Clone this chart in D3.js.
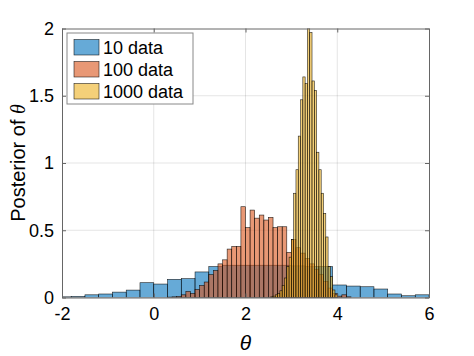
<!DOCTYPE html>
<html>
<head>
<meta charset="utf-8">
<script src="https://cdn.jsdelivr.net/npm/d3@7"></script>
<style>
  html, body { margin: 0; padding: 0; background: #fff; }
  svg { display: block; }
  text { font-family: "Liberation Sans", Arial, Helvetica, sans-serif; fill: #000; }
</style>
</head>
<body>
<svg id="chart" width="474" height="356"></svg>
<script>
// ---------- data ----------
const seriesNames = ["10 data", "100 data", "1000 data"];
const seriesColors = ["#0072BD", "#D95319", "#EDB120"];

// 10 data: bin width 0.3, first lower edge -2.1
const blueStart = -2.1, blueWidth = 0.3;
const blueHeights = [0.005, 0.008, 0.02, 0.026, 0.04, 0.055, 0.11, 0.10, 0.135, 0.14,
  0.19, 0.23, 0.24, 0.24, 0.24, 0.24, 0.24, 0.235, 0.23, 0.23,
  0.093, 0.085, 0.08, 0.063, 0.026, 0.013, 0.02];

// 100 data: bin width 0.1, first lower edge 0.3
const redStart = 0.3, redWidth = 0.1;
const redHeights = [0.003, 0.005, 0.008, 0.02, 0.045, 0.03,
  0.06, 0.09, 0.115, 0.17, 0.2, 0.25, 0.28, 0.36, 0.38, 0.38,
  0.675, 0.52, 0.65, 0.59, 0.613, 0.576, 0.596, 0.52, 0.526, 0.526,
  0.336, 0.43, 0.37, 0.33, 0.29, 0.25, 0.21, 0.17, 0.12, 0.07, 0.03, 0.01, 0.02, 0.005];

// 1000 data: bin width 0.05, first lower edge 2.55
const yellowStart = 2.55, yellowWidth = 0.05;
const yellowHeights = [0.005, 0.01, 0.02, 0.03, 0.05, 0.09, 0.145, 0.23, 0.3, 0.43,
  0.775, 0.95, 1.2, 1.47, 1.64, 1.59, 2.0, 1.97, 1.61, 1.54,
  1.08, 0.95, 0.775, 0.626, 0.45, 0.23, 0.155, 0.056, 0.02];

const xTicks = [-2, 0, 2, 4, 6];
const xTickLabels = ["-2", "0", "2", "4", "6"];
const yTicks = [0, 0.5, 1, 1.5, 2];
const yTickLabels = ["0", "0.5", "1", "1.5", "2"];

// ---------- layout ----------
const svg = d3.select("#chart");
const L = 62, R = 429, T = 28.5, B = 297.5;
const x = d3.scaleLinear().domain([-2, 6]).range([L, R]);
const y = d3.scaleLinear().domain([0, 2]).range([B, T]);

svg.append("defs").append("clipPath").attr("id", "clip")
  .append("rect").attr("x", L).attr("y", T).attr("width", R - L).attr("height", B - T);

// grid
const grid = svg.append("g").attr("stroke", "#262626").attr("stroke-opacity", 0.12).attr("stroke-width", 1);
xTicks.slice(1, -1).forEach(t => grid.append("line")
  .attr("x1", x(t)).attr("x2", x(t)).attr("y1", T).attr("y2", B));
yTicks.slice(1, -1).forEach(t => grid.append("line")
  .attr("x1", L).attr("x2", R).attr("y1", y(t)).attr("y2", y(t)));

// histograms
function toBins(start, width, heights) {
  return heights.map((h, i) => ({ x0: start + i * width, x1: start + (i + 1) * width, h }));
}
const series = [
  toBins(blueStart, blueWidth, blueHeights),
  toBins(redStart, redWidth, redHeights),
  toBins(yellowStart, yellowWidth, yellowHeights)
];
const plot = svg.append("g").attr("clip-path", "url(#clip)");
series.forEach((bins, si) => {
  plot.append("g").selectAll("rect").data(bins).join("rect")
    .attr("x", d => x(d.x0))
    .attr("y", d => y(d.h))
    .attr("width", d => x(d.x1) - x(d.x0))
    .attr("height", d => y(0) - y(d.h))
    .attr("fill", seriesColors[si])
    .attr("fill-opacity", 0.6)
    .attr("stroke", "#000")
    .attr("stroke-opacity", 0.85)
    .attr("stroke-width", 0.6);
});

// axes
const axisColor = "#666";
const xAxisB = svg.append("g").attr("transform", `translate(0,${B})`)
  .call(d3.axisBottom(x).tickValues(xTicks).tickSizeInner(-4).tickSizeOuter(0).tickPadding(10)
    .tickFormat((d, i) => xTickLabels[i]));
const xAxisT = svg.append("g").attr("transform", `translate(0,${T})`)
  .call(d3.axisTop(x).tickValues(xTicks).tickSizeInner(-4).tickSizeOuter(0).tickFormat(""));
const yAxisL = svg.append("g").attr("transform", `translate(${L},0)`)
  .call(d3.axisLeft(y).tickValues(yTicks).tickSizeInner(-4).tickSizeOuter(0).tickPadding(8)
    .tickFormat((d, i) => yTickLabels[i]));
const yAxisR = svg.append("g").attr("transform", `translate(${R},0)`)
  .call(d3.axisRight(y).tickValues(yTicks).tickSizeInner(-4).tickSizeOuter(0).tickFormat(""));
[xAxisB, xAxisT, yAxisL, yAxisR].forEach(g => {
  g.select(".domain").attr("stroke", axisColor);
  g.selectAll(".tick line").attr("stroke", axisColor);
  g.selectAll(".tick text").attr("font-size", 18).attr("fill", "#000")
    .attr("font-family", "'Liberation Sans', Arial, sans-serif");
});
xAxisB.selectAll(".tick text").attr("dy", "0.71em");

// labels
svg.append("text")
  .attr("x", (L + R) / 2).attr("y", 350)
  .attr("text-anchor", "middle")
  .attr("font-size", 21)
  .attr("font-style", "italic")
  .attr("font-family", "'Liberation Serif', 'DejaVu Serif', serif")
  .text("θ");

const yl = svg.append("text")
  .attr("transform", `translate(25,${(T + B) / 2}) rotate(-90)`)
  .attr("text-anchor", "middle")
  .attr("font-size", 20);
yl.append("tspan").text("Posterior of ");
yl.append("tspan").attr("font-style", "italic")
  .attr("font-family", "'Liberation Serif', 'DejaVu Serif', serif").text("θ");

// legend
const lg = svg.append("g");
lg.append("rect").attr("x", 67).attr("y", 33).attr("width", 126).attr("height", 71)
  .attr("fill", "#fff").attr("stroke", "#888").attr("stroke-width", 1);
seriesNames.forEach((name, i) => {
  const yy = 39.5 + i * 22;
  lg.append("rect").attr("x", 74).attr("y", yy).attr("width", 25).attr("height", 15.5)
    .attr("fill", seriesColors[i]).attr("fill-opacity", 0.6)
    .attr("stroke", "#000").attr("stroke-opacity", 0.85).attr("stroke-width", 0.6);
  lg.append("text").attr("x", 103).attr("y", yy + 14).attr("font-size", 18).text(name);
});
</script>
</body>
</html>
